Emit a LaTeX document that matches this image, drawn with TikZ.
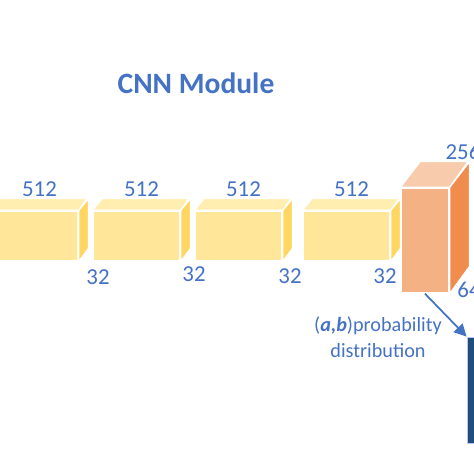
\documentclass[tikz,border=0pt]{standalone}
\usepackage{fontspec}
\setmainfont{Carlito}
\usetikzlibrary{arrows.meta}
\definecolor{txtblue}{RGB}{68,114,196}
\definecolor{yfront}{RGB}{255,230,153}
\definecolor{ytop}{RGB}{255,238,176}
\definecolor{yside}{RGB}{255,214,98}
\definecolor{ofront}{RGB}{244,177,131}
\definecolor{otop}{RGB}{248,203,173}
\definecolor{oside}{RGB}{240,140,78}
\definecolor{darkblue}{RGB}{31,78,121}
\tikzset{
  layer/.style={draw=white, line width=0.8pt, fill=yfront, minimum width=1.74cm, minimum height=1cm, inner sep=0pt},
  face/.style={draw=white, line width=0.8pt},
  dimlabel/.style={text=txtblue, font=\fontsize{13}{15}\selectfont, inner sep=0pt}
}
\begin{document}
\begin{tikzpicture}[x=0.02cm,y=-0.02cm]
\useasboundingbox (0,0) rectangle (474,474);
\clip (0,0) rectangle (474,474);
\node[text=txtblue, font=\fontsize{16.8}{20}\selectfont\bfseries] (title) at (196,83) {CNN Module};
% yellow layers
\node[layer] (conv1) at (34.5,236) {};
\node[layer] (conv2) at (136.5,236) {};
\node[layer] (conv3) at (238.5,236) {};
\node[layer] (conv4) at (346.5,236) {};
\filldraw[face, fill=ytop] (conv1.north west) -- ++(0.2cm,0.24cm) -- ++(1.74cm,0) -- (conv1.north east) -- cycle;
\filldraw[face, fill=yside] (conv1.north east) -- ++(0.2cm,0.24cm) -- ++(0,-1cm) -- (conv1.south east) -- cycle;
\filldraw[face, fill=ytop] (conv2.north west) -- ++(0.2cm,0.24cm) -- ++(1.74cm,0) -- (conv2.north east) -- cycle;
\filldraw[face, fill=yside] (conv2.north east) -- ++(0.2cm,0.24cm) -- ++(0,-1cm) -- (conv2.south east) -- cycle;
\filldraw[face, fill=ytop] (conv3.north west) -- ++(0.2cm,0.24cm) -- ++(1.74cm,0) -- (conv3.north east) -- cycle;
\filldraw[face, fill=yside] (conv3.north east) -- ++(0.2cm,0.24cm) -- ++(0,-1cm) -- (conv3.south east) -- cycle;
\filldraw[face, fill=ytop] (conv4.north west) -- ++(0.2cm,0.24cm) -- ++(1.74cm,0) -- (conv4.north east) -- cycle;
\filldraw[face, fill=yside] (conv4.north east) -- ++(0.2cm,0.24cm) -- ++(0,-1cm) -- (conv4.south east) -- cycle;
% orange layer
\node[layer, fill=ofront, minimum width=0.96cm, minimum height=2.1cm] (pool) at (425,240.5) {};
\filldraw[face, fill=otop] (pool.north west) -- ++(0.4cm,0.52cm) -- ++(0.96cm,0) -- (pool.north east) -- cycle;
\filldraw[face, fill=oside] (pool.north east) -- ++(0.4cm,0.52cm) -- ++(0,-2.1cm) -- (pool.south east) -- cycle;
% sizes
\node[dimlabel] (w1) at (39.5,189) {512};
\node[dimlabel] (w2) at (141.5,189) {512};
\node[dimlabel] (w3) at (243.5,189) {512};
\node[dimlabel] (w4) at (351.5,189) {512};
\node[dimlabel] (d1) at (98,277) {32};
\node[dimlabel] (d2) at (194,274) {32};
\node[dimlabel] (d3) at (290,276) {32};
\node[dimlabel] (d4) at (385,276) {32};
\node[dimlabel] (w5) at (463,152) {256};
\node[dimlabel] (d5) at (469,290) {64};
% output
\node[draw=blue!25, line width=0.5pt, fill=darkblue, minimum width=0.8cm, minimum height=2.12cm, inner sep=0pt] (dist) at (487,390) {};
\draw[txtblue, line width=1pt, -{Triangle[length=7pt, width=7pt]}] (pool.south) -- (dist.north west);
\node[dimlabel, align=center, font=\fontsize{11.5}{14.5}\selectfont] (distlabel) at (378,337) {(\textbf{\textit{a,b}})probability\\distribution};
\end{tikzpicture}
\end{document}
